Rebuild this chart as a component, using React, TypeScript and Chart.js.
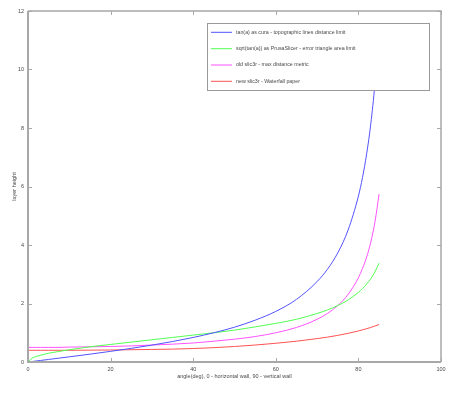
import React, { useEffect, useRef } from "react";
import { Chart, registerables } from "chart.js";

Chart.register(...registerables);

// angles in degrees
const angles = [0, 1, 2, 3, 5, 7.5, 10, 15, 20, 25, 30, 35, 40, 45, 50, 55, 60, 65, 70, 72.5, 75, 77.5, 80, 81, 82, 83, 84, 85];

const curaValues = [0, 0.017, 0.035, 0.052, 0.087, 0.132, 0.176, 0.268, 0.364, 0.466, 0.577, 0.7, 0.839, 1.0, 1.19, 1.43, 1.73, 2.14, 2.75, 3.17, 3.73, 4.51, 5.67, 6.31, 7.12, 8.14, 9.51, 11.43];
const prusaValues = [0, 0.13, 0.19, 0.23, 0.3, 0.36, 0.42, 0.52, 0.6, 0.68, 0.76, 0.84, 0.92, 1.0, 1.09, 1.2, 1.32, 1.46, 1.66, 1.78, 1.93, 2.12, 2.38, 2.51, 2.67, 2.85, 3.08, 3.38];
const oldSlic3rValues = [0.5, 0.5, 0.5, 0.5, 0.5, 0.5, 0.51, 0.52, 0.53, 0.55, 0.58, 0.61, 0.65, 0.71, 0.78, 0.87, 1.0, 1.18, 1.46, 1.66, 1.93, 2.31, 2.88, 3.2, 3.59, 4.1, 4.78, 5.74];
const newSlic3rValues = [0.4, 0.4, 0.4, 0.4, 0.4, 0.4, 0.4, 0.405, 0.41, 0.42, 0.43, 0.44, 0.46, 0.49, 0.53, 0.58, 0.64, 0.71, 0.8, 0.85, 0.91, 0.98, 1.06, 1.1, 1.14, 1.18, 1.23, 1.28];

const seriesLabels = [
  "tan(a) as cura - topographic lines distance limit",
  "sqrt(tan(a)) as PrusaSlicer - error triangle area limit",
  "old slic3r - max distance metric",
  "new slic3r - Waterfall paper",
];
const seriesColors = ["#5252ff", "#52ff52", "#ff52ff", "#ff5252"];

const xTitle = "angle(deg), 0 - horizontal wall, 90 - vertical wall";
const yTitle = "layer height";

const FONT = "'Liberation Sans', Arial, sans-serif";
const AXIS_GRAY = "#a8a8a8";
const TEXT_COLOR = "#4a4a4a";

const overlayPlugin = {
  id: "overlay",
  afterDraw(chart: any) {
    const ctx = chart.ctx;
    const { left, right, top, bottom } = chart.chartArea;
    const xs = chart.scales.x;
    const ys = chart.scales.y;
    ctx.save();
    // box
    ctx.strokeStyle = AXIS_GRAY;
    ctx.lineWidth = 2;
    ctx.beginPath();
    ctx.moveTo(left, top);
    ctx.lineTo(left, bottom);
    ctx.lineTo(right, bottom);
    ctx.stroke();
    ctx.lineWidth = 1.5;
    ctx.beginPath();
    ctx.moveTo(left, top);
    ctx.lineTo(right, top);
    ctx.lineTo(right, bottom);
    ctx.stroke();
    // inward ticks
    ctx.lineWidth = 1;
    xs.ticks.forEach((t: any) => {
      const px = Math.round(xs.getPixelForValue(t.value)) + 0.5;
      ctx.beginPath();
      ctx.moveTo(px, bottom);
      ctx.lineTo(px, bottom - 4);
      ctx.moveTo(px, top);
      ctx.lineTo(px, top + 4);
      ctx.stroke();
    });
    ys.ticks.forEach((t: any) => {
      const py = Math.round(ys.getPixelForValue(t.value)) + 0.5;
      ctx.beginPath();
      ctx.moveTo(left, py);
      ctx.lineTo(left + 4, py);
      ctx.moveTo(right, py);
      ctx.lineTo(right - 4, py);
      ctx.stroke();
    });
    // axis titles
    ctx.fillStyle = TEXT_COLOR;
    ctx.font = `5.5px ${FONT}`;
    ctx.textAlign = "center";
    ctx.textBaseline = "middle";
    ctx.fillText(xTitle, (left + right) / 2, 376);
    ctx.save();
    ctx.translate(14, (top + bottom) / 2);
    ctx.rotate(-Math.PI / 2);
    ctx.fillText(yTitle, 0, 0);
    ctx.restore();
    // legend
    const lx = 207, ly = 23, lw = 222, lh = 67;
    ctx.fillStyle = "#ffffff";
    ctx.fillRect(lx, ly, lw, lh);
    ctx.strokeStyle = "#9a9a9a";
    ctx.lineWidth = 1;
    ctx.strokeRect(lx + 0.5, ly + 0.5, lw, lh);
    const rows = [32.3, 48.7, 65, 81.3];
    ctx.textAlign = "left";
    ctx.font = `5.3px ${FONT}`;
    seriesLabels.forEach((lab, i) => {
      const y = rows[i];
      ctx.strokeStyle = seriesColors[i];
      ctx.lineWidth = 1;
      ctx.beginPath();
      ctx.moveTo(211, y);
      ctx.lineTo(232, y);
      ctx.stroke();
      ctx.fillStyle = TEXT_COLOR;
      ctx.fillText(lab, 236, y);
    });
    ctx.restore();
  },
};

export default function App() {
  const ref = useRef<HTMLCanvasElement>(null);
  useEffect(() => {
    document.body.style.margin = "0";
    const toPts = (vals: number[]) => angles.map((a, i) => ({ x: a, y: vals[i] }));
    const allValues = [curaValues, prusaValues, oldSlic3rValues, newSlic3rValues];
    const chart = new Chart(ref.current!, {
      type: "line",
      data: {
        datasets: allValues.map((vals, i) => ({
          label: seriesLabels[i],
          data: toPts(vals),
          borderColor: seriesColors[i],
          borderWidth: 1,
          pointRadius: 0,
          fill: false,
          cubicInterpolationMode: "monotone" as const,
        })),
      },
      options: {
        animation: false,
        responsive: false,
        devicePixelRatio: 1,
        layout: { padding: { top: 11, right: 14, left: 0, bottom: 0 } },
        plugins: { legend: { display: false }, tooltip: { enabled: false } },
        scales: {
          x: {
            type: "linear",
            min: 0,
            max: 100,
            grid: { display: false, drawTicks: false },
            border: { display: false },
            ticks: {
              stepSize: 20,
              maxRotation: 0,
              padding: 4,
              color: TEXT_COLOR,
              font: { family: FONT, size: 5.5 },
            },
            afterFit: (axis: any) => {
              axis.height = 38;
            },
          },
          y: {
            type: "linear",
            min: 0,
            max: 12,
            grid: { display: false, drawTicks: false },
            border: { display: false },
            ticks: {
              stepSize: 2,
              padding: 4,
              color: TEXT_COLOR,
              font: { family: FONT, size: 5.5 },
            },
            afterFit: (axis: any) => {
              axis.width = 28;
            },
          },
        },
      },
      plugins: [overlayPlugin],
    });
    return () => chart.destroy();
  }, []);
  return (
    <div style={{ position: "absolute", left: 0, top: 0, width: 455, height: 400, background: "#fff" }}>
      <canvas ref={ref} width={455} height={400} />
    </div>
  );
}
